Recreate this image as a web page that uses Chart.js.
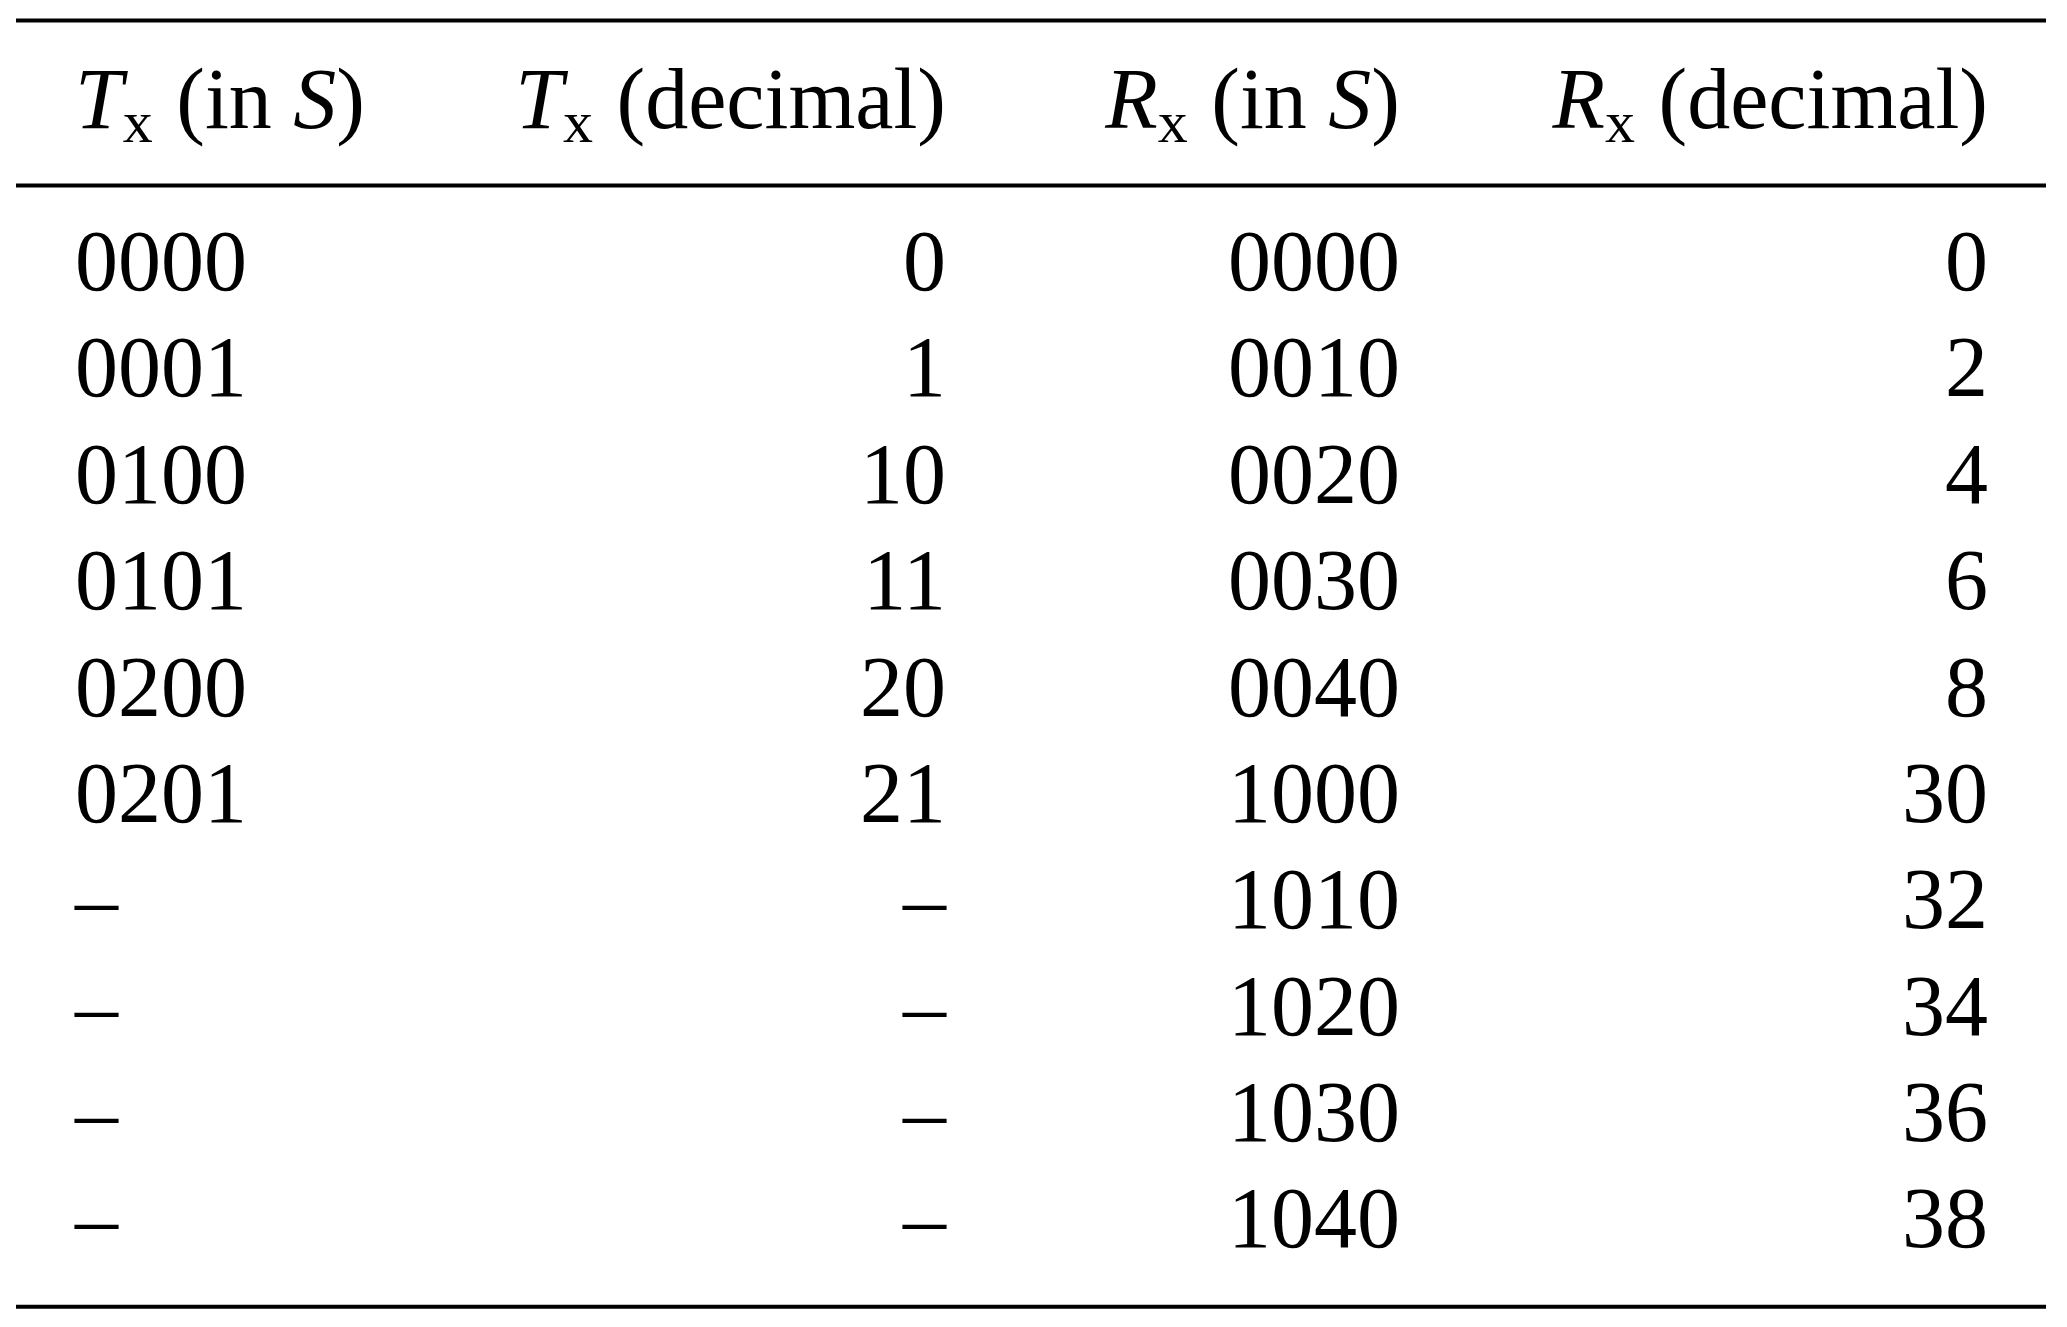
<!DOCTYPE html>
<html><head><meta charset="utf-8">
<script src="https://cdn.jsdelivr.net/npm/chart.js@4"></script>
<style>html,body{margin:0;padding:0;background:#fff}#w{width:2067px;height:1327px}</style>
</head><body><div id="w"><canvas id="c"></canvas></div>
<script>
const txInS = ['0000','0001','0100','0101','0200','0201','–','–','–','–'];
const txDec = ['0','1','10','11','20','21','–','–','–','–'];
const rxInS = ['0000','0010','0020','0030','0040','1000','1010','1020','1030','1040'];
const rxDec = ['0','2','4','6','8','30','32','34','36','38'];
const headers = [
  [['T','i'],['x','sub'],[' (in ','n'],['S','i'],[')','n']],
  [['T','i'],['x','sub'],[' (decimal)','n']],
  [['R','i'],['x','sub'],[' (in ','n'],['S','i'],[')','n']],
  [['R','i'],['x','sub'],[' (decimal)','n']]
];
const columns = [txInS, txDec, rxInS, rxDec];
const colAlign = ['left','right','right','right'];
const colAnchor = [75, 946, 1400, 1988];
const ruleRows = [-2.26, -0.71, 9.83];
const headerRow = -1.52;

const F = '"Liberation Serif", "DejaVu Serif", serif';
const tablePlugin = {
  id: 'table',
  afterDraw(chart) {
    const ctx = chart.ctx, xs = chart.scales.x, ys = chart.scales.y;
    ctx.save();
    ctx.fillStyle = '#000'; ctx.strokeStyle = '#000'; ctx.lineWidth = 4;
    ruleRows.forEach(r => {
      const y = ys.getPixelForValue(r);
      ctx.beginPath(); ctx.moveTo(xs.getPixelForValue(16), y); ctx.lineTo(xs.getPixelForValue(2046), y); ctx.stroke();
    });
    ctx.textBaseline = 'alphabetic';
    const fontFor = t => t === 'i' ? 'italic 86px ' + F : t === 'sub' ? '60px ' + F : '86px ' + F;
    headers.forEach((segs, ci) => {
      let w = 0;
      segs.forEach(s => { ctx.font = fontFor(s[1]); w += ctx.measureText(s[0]).width + (s[1]==='sub'?2:0); });
      let x = xs.getPixelForValue(colAnchor[ci]);
      if (colAlign[ci] === 'right') x -= w;
      const yb = ys.getPixelForValue(headerRow) + 29;
      segs.forEach(s => {
        ctx.font = fontFor(s[1]); ctx.textAlign = 'left';
        ctx.fillText(s[0], x, yb + (s[1]==='sub'?14:0));
        x += ctx.measureText(s[0]).width + (s[1]==='sub'?2:0);
      });
    });
    ctx.font = '86px ' + F;
    columns.forEach((col, ci) => {
      ctx.textAlign = colAlign[ci];
      col.forEach((v, ri) => {
        ctx.fillText(v, xs.getPixelForValue(colAnchor[ci]), ys.getPixelForValue(ri) + 29);
      });
    });
    ctx.restore();
  }
};
new Chart(document.getElementById('c'), {
  type: 'scatter',
  data: { datasets: [{ data: rxDec.map((v, i) => ({x: colAnchor[3], y: i})), pointRadius: 0 }] },
  options: {
    responsive: true, maintainAspectRatio: false, animation: false,
    layout: { padding: 0 },
    plugins: { legend: { display: false }, tooltip: { enabled: false } },
    scales: {
      x: { type: 'linear', min: 0, max: 2067, display: false },
      y: { type: 'linear', min: -2.453, max: 10.02, reverse: true, display: false }
    }
  },
  plugins: [tablePlugin]
});
</script></body></html>
